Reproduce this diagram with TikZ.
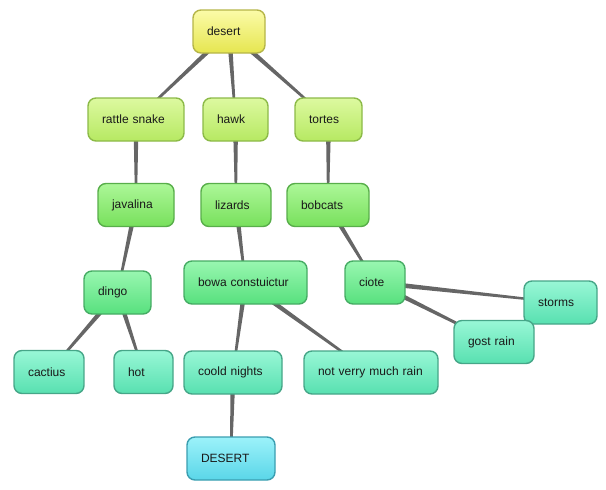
\documentclass[tikz,border=0pt]{standalone}
\usepackage{fontspec}
\setmainfont{Liberation Sans}
\usetikzlibrary{calc,backgrounds}
\definecolor{edgec}{HTML}{666666}
\tikzset{
  box/.style={rounded corners=8pt, line width=1.4pt, inner xsep=14pt, inner ysep=0pt,
    minimum height=43pt, align=left, font=\fontsize{12}{14}\selectfont, text=black!90},
  lv0/.style={draw=lv0d, top color=lv0t, bottom color=lv0b},
  lv1/.style={draw=lv1d, top color=lv1t, bottom color=lv1b},
  lv2/.style={draw=lv2d, top color=lv2t, bottom color=lv2b},
  lv3/.style={draw=lv3d, top color=lv3t, bottom color=lv3b},
  lv4/.style={draw=lv4d, top color=lv4t, bottom color=lv4b},
  lv5/.style={draw=lv5d, top color=lv5t, bottom color=lv5b},
}
\definecolor{lv0t}{HTML}{FBFBA8}\definecolor{lv0b}{HTML}{E6E650}\definecolor{lv0d}{HTML}{B5B548}
\definecolor{lv1t}{HTML}{DDF9A0}\definecolor{lv1b}{HTML}{B6E962}\definecolor{lv1d}{HTML}{8CBA48}
\definecolor{lv2t}{HTML}{ACF798}\definecolor{lv2b}{HTML}{78E05C}\definecolor{lv2d}{HTML}{58AE4A}
\definecolor{lv3t}{HTML}{98F7B0}\definecolor{lv3b}{HTML}{58E07E}\definecolor{lv3d}{HTML}{46AC64}
\definecolor{lv4t}{HTML}{98F7D6}\definecolor{lv4b}{HTML}{58E0B0}\definecolor{lv4d}{HTML}{46A688}
\definecolor{lv5t}{HTML}{9CF2FA}\definecolor{lv5b}{HTML}{5AD6E8}\definecolor{lv5d}{HTML}{3A9EB0}
\newcommand{\bx}[6]{% style, name, cx, cy, width, text
  \node[box,#1,text width=#5pt-28pt,minimum width=#5pt] (#2) at (#3,#4) {#6};}
\newcommand{\tedge}[2]{%
  \fill[edgec] ($(#1)!2.6pt!90:(#2)$) -- ($(#2)!0.9pt!-90:(#1)$) -- ($(#2)!0.9pt!90:(#1)$) -- ($(#1)!2.6pt!-90:(#2)$) -- cycle;}
\begin{document}
\begin{tikzpicture}[x=1pt,y=-1pt]
\useasboundingbox (0,0) rectangle (606,490);
\bx{lv0}{desert}{229}{31.5}{72}{desert}
\bx{lv1}{rattle}{136}{119.5}{96}{rattle snake}
\bx{lv1}{hawk}{235.5}{119.5}{65}{hawk}
\bx{lv1}{tortes}{328.5}{119.5}{67}{tortes}
\bx{lv2}{javalina}{136}{205}{76}{javalina}
\bx{lv2}{lizards}{236}{205}{70}{lizards}
\bx{lv2}{bobcats}{328}{205}{82}{bobcats}
\bx{lv3}{dingo}{117.5}{292.5}{67}{dingo}
\bx{lv3}{bowa}{245.5}{282.5}{123}{bowa constuictur}
\bx{lv3}{ciote}{375}{282.5}{60}{ciote}
\bx{lv4}{storms}{560.5}{302.5}{73}{storms}
\bx{lv4}{gost}{494}{342}{80}{gost rain}
\bx{lv4}{cactius}{49}{372}{70}{cactius}
\bx{lv4}{hot}{143.5}{372}{59}{hot}
\bx{lv4}{coold}{233}{372.5}{98}{coold nights}
\bx{lv4}{notv}{371}{372.5}{134}{not verry much rain}
\bx{lv5}{DESERT}{231}{458.5}{88}{DESERT}
\begin{scope}[on background layer]
\tedge{desert}{rattle}
\tedge{desert}{hawk}
\tedge{desert}{tortes}
\tedge{rattle}{javalina}
\tedge{hawk}{lizards}
\tedge{tortes}{bobcats}
\tedge{javalina}{dingo}
\tedge{lizards}{bowa}
\tedge{bobcats}{ciote}
\tedge{dingo}{cactius}
\tedge{dingo}{hot}
\tedge{bowa}{coold}
\tedge{bowa}{notv}
\tedge{ciote}{storms}
\tedge{ciote}{gost}
\tedge{coold}{DESERT}
\end{scope}
\end{tikzpicture}
\end{document}
